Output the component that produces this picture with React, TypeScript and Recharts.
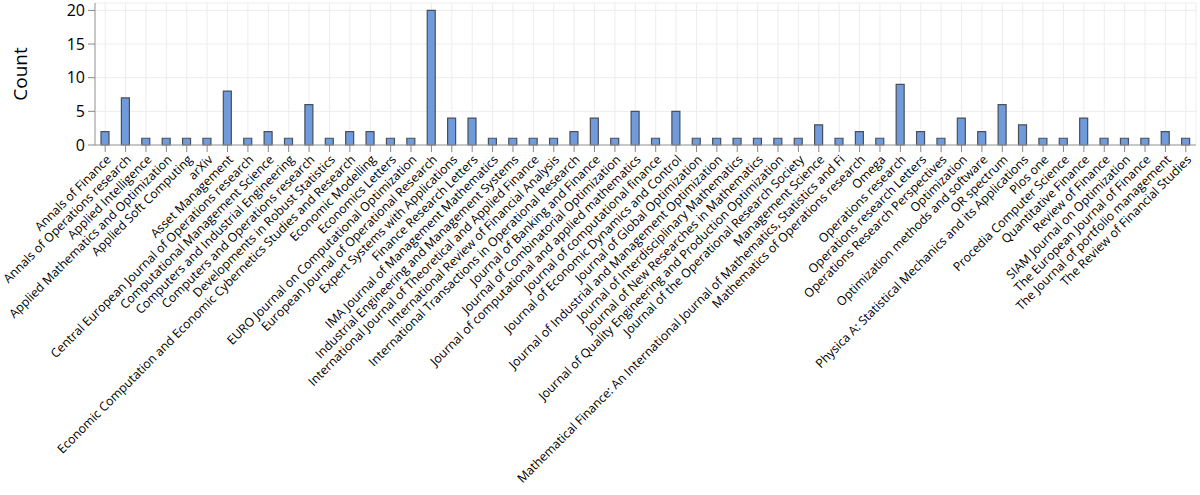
import { Bar, BarChart, CartesianGrid, XAxis, YAxis } from "recharts";

const JOURNALS = [
  "Annals of Finance",
  "Annals of Operations research",
  "Applied Intelligence",
  "Applied Mathematics and Optimization",
  "Applied Soft Computing",
  "arXiv",
  "Asset Management",
  "Central European Journal of Operations research",
  "Computational Management Science",
  "Computers and Industrial Engineering",
  "Computers and Operations research",
  "Developments in Robust Statistics",
  "Economic Computation and Economic Cybernetics Studies and Research",
  "Economic Modelling",
  "Economics Letters",
  "EURO Journal on Computational Optimization",
  "European Journal of Operational Research",
  "Expert Systems with Applications",
  "Finance Research Letters",
  "IMA Journal of Management Mathematics",
  "Industrial Engineering and Management Systems",
  "International Journal of Theoretical and Applied Finance",
  "International Review of Financial Analysis",
  "International Transactions in Operational Research",
  "Journal of Banking and Finance",
  "Journal of Combinatorial Optimization",
  "Journal of computational and applied mathematics",
  "Journal of computational finance",
  "Journal of Economic Dynamics and Control",
  "Journal of Global Optimization",
  "Journal of Industrial and Management Optimization",
  "Journal of Interdisciplinary Mathematics",
  "Journal of New Researches in Mathematics",
  "Journal of Quality Engineering and Production Optimization",
  "Journal of the Operational Research Society",
  "Management Science",
  "Mathematical Finance: An International Journal of Mathematics, Statistics and Fi",
  "Mathematics of Operations research",
  "Omega",
  "Operations research",
  "Operations research Letters",
  "Operations Research Perspectives",
  "Optimization",
  "Optimization methods and software",
  "OR spectrum",
  "Physica A: Statistical Mechanics and its Applications",
  "Plos one",
  "Procedia Computer Science",
  "Quantitative Finance",
  "Review of Finance",
  "SIAM Journal on Optimization",
  "The European Journal of Finance",
  "The Journal of portfolio management",
  "The Review of Financial Studies",
];

const COUNTS = [
  2, 7, 1, 1, 1, 1, 8, 1, 2, 1, 6, 1, 2, 2, 1, 1, 20, 4, 4, 1, 1, 1, 1, 2, 4, 1,
  5, 1, 5, 1, 1, 1, 1, 1, 1, 3, 1, 2, 1, 9, 2, 1, 4, 2, 6, 3, 1, 1, 4, 1, 1, 1,
  2, 1,
];

const Y_TICKS = [0, 5, 10, 15, 20];

const data = JOURNALS.map((journal, i) => ({ journal, count: COUNTS[i] }));

const FONT = "'Open Sans', 'Noto Sans', sans-serif";

function JournalTick({ x, y, payload }: any) {
  return (
    <g transform={`translate(${x},${y})`}>
      <text
        transform="rotate(-45)"
        textAnchor="end"
        x={0}
        y={0}
        dx={0}
        dy={9}
        fontSize={12.35}
        fill="#000"
        fontFamily={FONT}
      >
        {payload.value}
      </text>
    </g>
  );
}

export default function App() {
  return (
    <div style={{ width: 1200, height: 495, background: "#fff" }}>
      <style>{`body{margin:0}`}</style>
      <BarChart
        width={1200}
        height={495}
        data={data}
        margin={{ top: 3, right: 4, left: 0, bottom: 0 }}
        barCategoryGap={0}
      >
        <CartesianGrid stroke="#ededed" />
        <XAxis
          dataKey="journal"
          interval={0}
          height={350}
          tick={<JournalTick />}
          tickSize={7}
          tickLine={{ stroke: "#888" }}
          axisLine={{ stroke: "#999" }}
        />
        <XAxis
          xAxisId="top"
          orientation="top"
          dataKey="journal"
          height={0}
          tick={false}
          tickLine={false}
          axisLine={{ stroke: "#aaa" }}
        />
        <YAxis
          width={95}
          domain={[0, 21.1]}
          ticks={Y_TICKS}
          tickSize={7}
          tickMargin={3}
          tickLine={{ stroke: "#888" }}
          axisLine={{ stroke: "#999" }}
          tick={{ fill: "#000", fontSize: 16, fontFamily: FONT }}
          label={{
            value: "Count",
            angle: -90,
            position: "insideLeft",
            offset: 20,
            style: { fill: "#000", fontSize: 19, fontFamily: FONT, textAnchor: "middle" },
          }}
        />
        <YAxis
          yAxisId="right"
          orientation="right"
          width={0}
          tick={false}
          tickLine={false}
          axisLine={{ stroke: "#aaa" }}
        />
        <Bar
          dataKey="count"
          barSize={8}
          fill="#6f9bdc"
          stroke="#4b4f57"
          strokeWidth={1.2}
          isAnimationActive={false}
        />
      </BarChart>
    </div>
  );
}
